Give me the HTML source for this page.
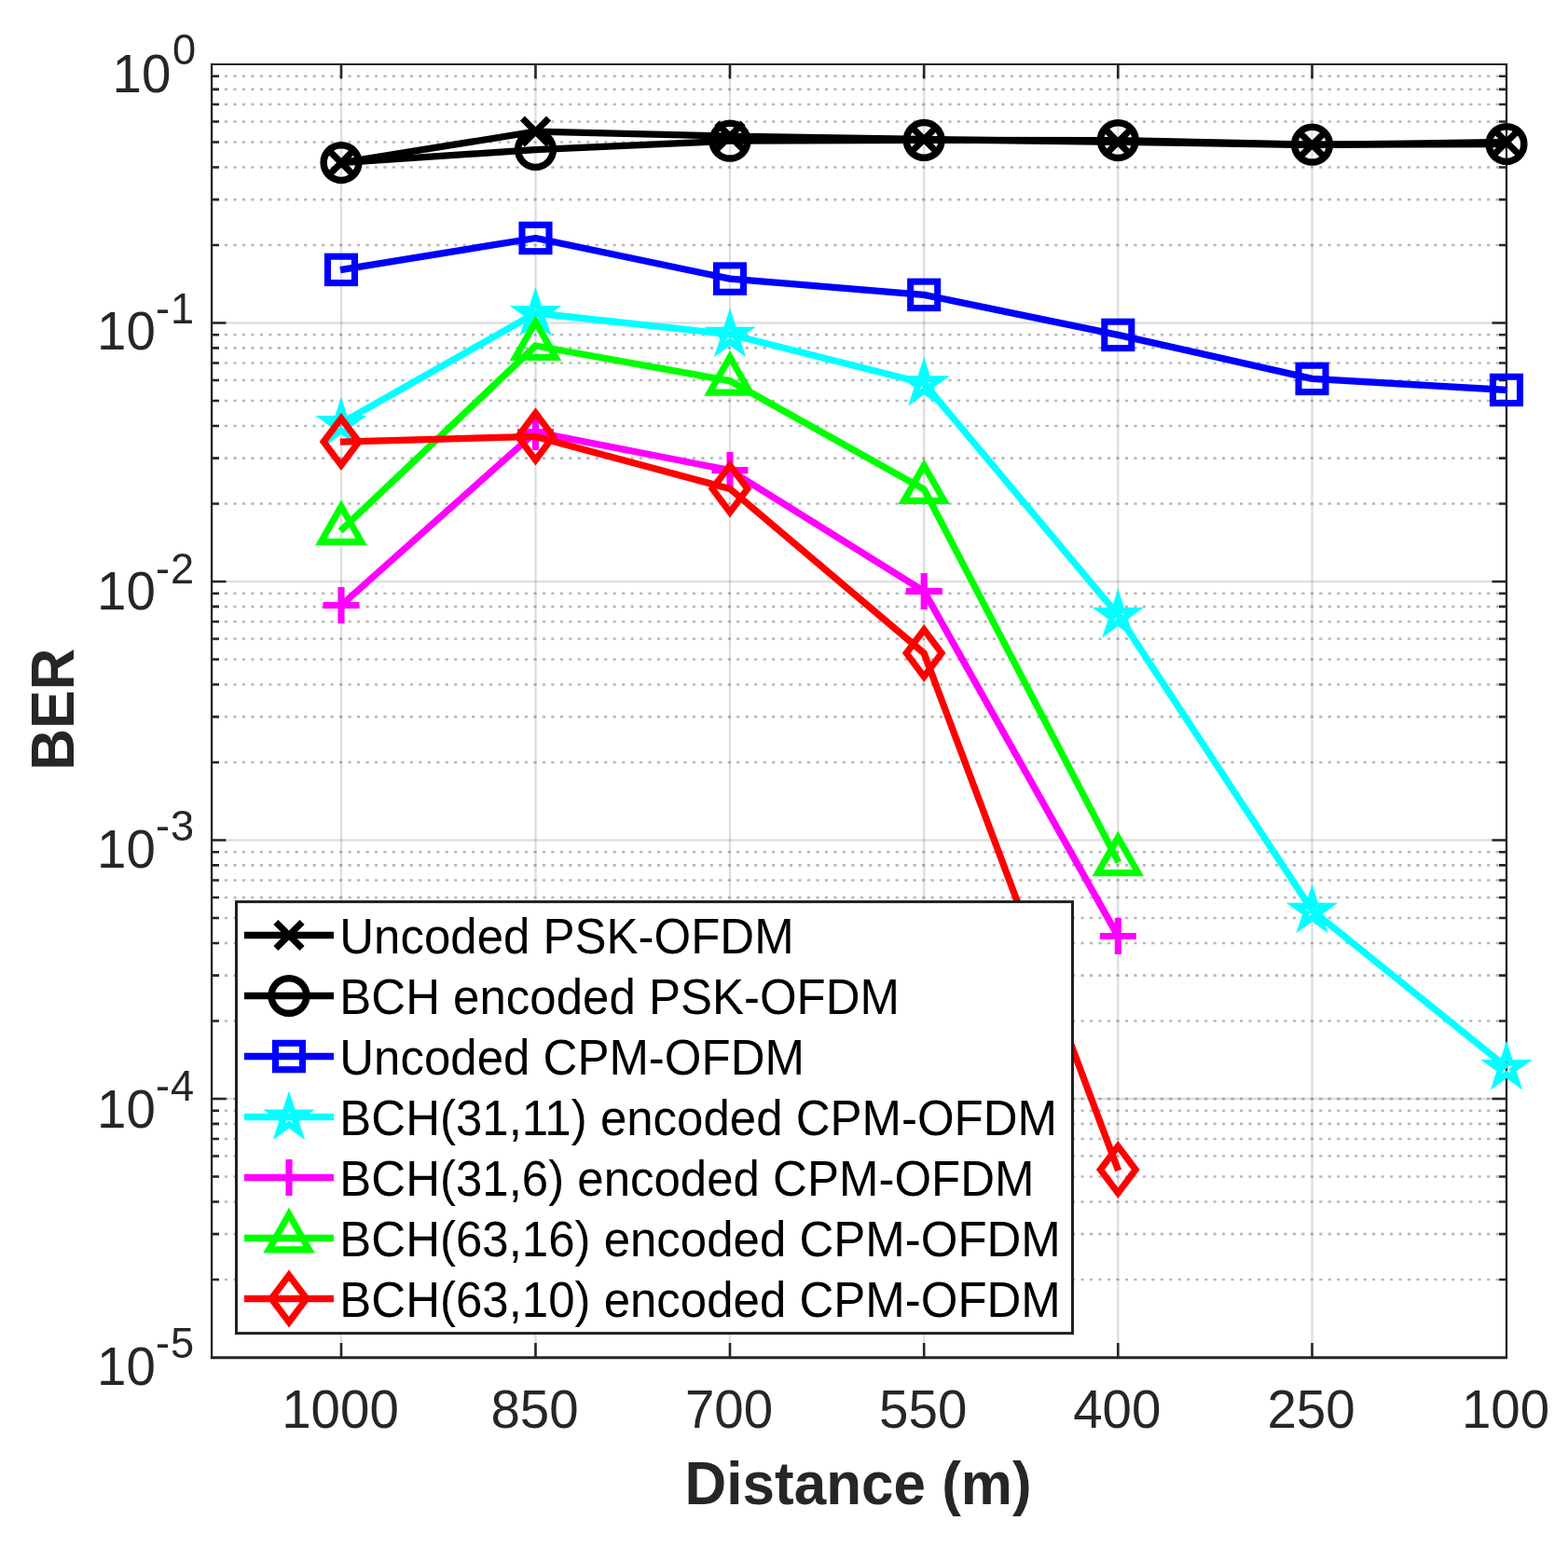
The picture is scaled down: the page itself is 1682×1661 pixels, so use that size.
<!DOCTYPE html>
<html lang="en">
<head>
<meta charset="utf-8">
<title>BER vs Distance</title>
<style>html,body{margin:0;padding:0;background:#ffffff;}body{width:1682px;height:1661px;overflow:hidden;}svg{display:block;}</style>
</head>
<body>
<svg width="1682" height="1661" viewBox="0 0 1682 1661" style="display:block">
<rect x="0" y="0" width="1682" height="1661" fill="#ffffff"/>
<g fill="none" stroke-linecap="butt">
<g stroke="#262626" stroke-opacity="0.15" stroke-width="2.4">
<path d="M227 346.5H1616"/>
<path d="M227 624H1616"/>
<path d="M227 901.5H1616"/>
<path d="M227 1179H1616"/>
<path d="M366 69V1456.5"/>
<path d="M574.5 69V1456.5"/>
<path d="M783 69V1456.5"/>
<path d="M991.2 69V1456.5"/>
<path d="M1199.3 69V1456.5"/>
<path d="M1407.5 69V1456.5"/>
</g>
<g stroke="#000000" stroke-opacity="0.28" stroke-width="2.6" stroke-dasharray="3.2 6.27" stroke-dashoffset="-4.45">
<path d="M227 262.96H1608"/>
<path d="M227 214.1H1608"/>
<path d="M227 179.43H1608"/>
<path d="M227 152.54H1608"/>
<path d="M227 130.56H1608"/>
<path d="M227 111.99H1608"/>
<path d="M227 95.89H1608"/>
<path d="M227 81.7H1608"/>
<path d="M227 540.46H1608"/>
<path d="M227 491.6H1608"/>
<path d="M227 456.93H1608"/>
<path d="M227 430.04H1608"/>
<path d="M227 408.06H1608"/>
<path d="M227 389.49H1608"/>
<path d="M227 373.39H1608"/>
<path d="M227 359.2H1608"/>
<path d="M227 817.96H1608"/>
<path d="M227 769.1H1608"/>
<path d="M227 734.43H1608"/>
<path d="M227 707.54H1608"/>
<path d="M227 685.56H1608"/>
<path d="M227 666.99H1608"/>
<path d="M227 650.89H1608"/>
<path d="M227 636.7H1608"/>
<path d="M227 1095.46H1608"/>
<path d="M227 1046.6H1608"/>
<path d="M227 1011.93H1608"/>
<path d="M227 985.04H1608"/>
<path d="M227 963.06H1608"/>
<path d="M227 944.49H1608"/>
<path d="M227 928.39H1608"/>
<path d="M227 914.2H1608"/>
<path d="M227 1372.96H1608"/>
<path d="M227 1324.1H1608"/>
<path d="M227 1289.43H1608"/>
<path d="M227 1262.54H1608"/>
<path d="M227 1240.56H1608"/>
<path d="M227 1221.99H1608"/>
<path d="M227 1205.89H1608"/>
<path d="M227 1191.7H1608"/>
<path d="M227 1179H1608"/>
</g>
</g>
<g stroke="#262626" stroke-width="2.4" fill="none" stroke-linecap="butt">
<path d="M225.9 69H1617.1" stroke-width="2.2"/>
<path d="M225.9 1456.7H1617.1" stroke-width="2.9"/>
<path d="M227.1 68V1458" stroke-width="2.3"/>
<path d="M1616 68V1458" stroke-width="2.3"/>
<path d="M366 1456.5V1441M366 69V84.5M574.5 1456.5V1441M574.5 69V84.5M783 1456.5V1441M783 69V84.5M991.2 1456.5V1441M991.2 69V84.5M1199.3 1456.5V1441M1199.3 69V84.5M1407.5 1456.5V1441M1407.5 69V84.5M227 346.5H242.5M1616 346.5H1600.5M227 624H242.5M1616 624H1600.5M227 901.5H242.5M1616 901.5H1600.5M227 1179H242.5M1616 1179H1600.5M227 262.96H235M1616 262.96H1608M227 214.1H235M1616 214.1H1608M227 179.43H235M1616 179.43H1608M227 152.54H235M1616 152.54H1608M227 130.56H235M1616 130.56H1608M227 111.99H235M1616 111.99H1608M227 95.89H235M1616 95.89H1608M227 81.7H235M1616 81.7H1608M227 540.46H235M1616 540.46H1608M227 491.6H235M1616 491.6H1608M227 456.93H235M1616 456.93H1608M227 430.04H235M1616 430.04H1608M227 408.06H235M1616 408.06H1608M227 389.49H235M1616 389.49H1608M227 373.39H235M1616 373.39H1608M227 359.2H235M1616 359.2H1608M227 817.96H235M1616 817.96H1608M227 769.1H235M1616 769.1H1608M227 734.43H235M1616 734.43H1608M227 707.54H235M1616 707.54H1608M227 685.56H235M1616 685.56H1608M227 666.99H235M1616 666.99H1608M227 650.89H235M1616 650.89H1608M227 636.7H235M1616 636.7H1608M227 1095.46H235M1616 1095.46H1608M227 1046.6H235M1616 1046.6H1608M227 1011.93H235M1616 1011.93H1608M227 985.04H235M1616 985.04H1608M227 963.06H235M1616 963.06H1608M227 944.49H235M1616 944.49H1608M227 928.39H235M1616 928.39H1608M227 914.2H235M1616 914.2H1608M227 1372.96H235M1616 1372.96H1608M227 1324.1H235M1616 1324.1H1608M227 1289.43H235M1616 1289.43H1608M227 1262.54H235M1616 1262.54H1608M227 1240.56H235M1616 1240.56H1608M227 1221.99H235M1616 1221.99H1608M227 1205.89H235M1616 1205.89H1608M227 1191.7H235M1616 1191.7H1608" stroke-width="2.6"/>
</g>
<g stroke-linecap="butt">
<path d="M351.9 160.5L380.1 188.7M351.9 188.7L380.1 160.5" stroke="#000000" stroke-width="7.1" fill="none"/>
<path d="M560.4 127.1L588.6 155.3M560.4 155.3L588.6 127.1" stroke="#000000" stroke-width="7.1" fill="none"/>
<path d="M768.9 132L797.1 160.2M768.9 160.2L797.1 132" stroke="#000000" stroke-width="7.1" fill="none"/>
<path d="M977.1 135.4L1005.3 163.6M977.1 163.6L1005.3 135.4" stroke="#000000" stroke-width="7.1" fill="none"/>
<path d="M1185.2 138.2L1213.4 166.4M1185.2 166.4L1213.4 138.2" stroke="#000000" stroke-width="7.1" fill="none"/>
<path d="M1393.4 141.4L1421.6 169.6M1393.4 169.6L1421.6 141.4" stroke="#000000" stroke-width="7.1" fill="none"/>
<path d="M1601.9 138.4L1630.1 166.6M1601.9 166.6L1630.1 138.4" stroke="#000000" stroke-width="7.1" fill="none"/>
<polyline points="365.01,174.76 574.5,141.2 783,146.1 991.2,149.5 1199.3,152.3 1407.5,155.5 1617,152.49" stroke="#000000" stroke-width="7.3" fill="none" stroke-linejoin="round"/>
</g>
<g stroke-linecap="butt">
<circle cx="366" cy="174.6" r="18.85" stroke="#000000" stroke-width="7.5" fill="none"/>
<circle cx="574.5" cy="160.6" r="18.85" stroke="#000000" stroke-width="7.5" fill="none"/>
<circle cx="783" cy="151.2" r="18.85" stroke="#000000" stroke-width="7.5" fill="none"/>
<circle cx="991.2" cy="150.4" r="18.85" stroke="#000000" stroke-width="7.5" fill="none"/>
<circle cx="1199.3" cy="150.6" r="18.85" stroke="#000000" stroke-width="7.5" fill="none"/>
<circle cx="1407.5" cy="155.2" r="18.85" stroke="#000000" stroke-width="7.5" fill="none"/>
<circle cx="1616" cy="154.6" r="18.85" stroke="#000000" stroke-width="7.5" fill="none"/>
<polyline points="365,174.67 574.5,160.6 783,151.2 991.2,150.4 1199.3,150.6 1407.5,155.2 1617,154.6" stroke="#000000" stroke-width="7.3" fill="none" stroke-linejoin="round"/>
</g>
<g stroke-linecap="butt">
<rect x="351.5" y="275.2" width="29" height="28.4" stroke="#0000ff" stroke-width="7.1" fill="none"/>
<rect x="560" y="241.3" width="29" height="28.4" stroke="#0000ff" stroke-width="7.1" fill="none"/>
<rect x="768.5" y="284.9" width="29" height="28.4" stroke="#0000ff" stroke-width="7.1" fill="none"/>
<rect x="976.7" y="302.15" width="29" height="28.4" stroke="#0000ff" stroke-width="7.1" fill="none"/>
<rect x="1184.8" y="345.2" width="29" height="28.4" stroke="#0000ff" stroke-width="7.1" fill="none"/>
<rect x="1393" y="392.2" width="29" height="28.4" stroke="#0000ff" stroke-width="7.1" fill="none"/>
<rect x="1601.5" y="404.25" width="29" height="28.4" stroke="#0000ff" stroke-width="7.1" fill="none"/>
<polyline points="365.01,289.56 574.5,255.5 783,299.1 991.2,316.35 1199.3,359.4 1407.5,406.4 1617,418.51" stroke="#0000ff" stroke-width="7.3" fill="none" stroke-linejoin="round"/>
</g>
<g stroke-linecap="butt">
<polygon points="366,436.7 370.09,449.28 383.31,449.28 372.61,457.05 376.7,469.62 366,461.85 355.3,469.62 359.39,457.05 348.69,449.28 361.91,449.28" stroke="#00ffff" stroke-width="6.8" fill="none" stroke-linejoin="miter" stroke-miterlimit="6"/>
<polygon points="574.5,318.8 578.59,331.38 591.81,331.38 581.11,339.15 585.2,351.72 574.5,343.95 563.8,351.72 567.89,339.15 557.19,331.38 570.41,331.38" stroke="#00ffff" stroke-width="6.8" fill="none" stroke-linejoin="miter" stroke-miterlimit="6"/>
<polygon points="783,341.5 787.09,354.08 800.31,354.08 789.61,361.85 793.7,374.42 783,366.65 772.3,374.42 776.39,361.85 765.69,354.08 778.91,354.08" stroke="#00ffff" stroke-width="6.8" fill="none" stroke-linejoin="miter" stroke-miterlimit="6"/>
<polygon points="991.2,394 995.29,406.58 1008.51,406.58 997.81,414.35 1001.9,426.92 991.2,419.15 980.5,426.92 984.59,414.35 973.89,406.58 987.11,406.58" stroke="#00ffff" stroke-width="6.8" fill="none" stroke-linejoin="miter" stroke-miterlimit="6"/>
<polygon points="1199.3,642.6 1203.39,655.18 1216.61,655.18 1205.91,662.95 1210,675.52 1199.3,667.75 1188.6,675.52 1192.69,662.95 1181.99,655.18 1195.21,655.18" stroke="#00ffff" stroke-width="6.8" fill="none" stroke-linejoin="miter" stroke-miterlimit="6"/>
<polygon points="1407.5,959.6 1411.59,972.18 1424.81,972.18 1414.11,979.95 1418.2,992.52 1407.5,984.75 1396.8,992.52 1400.89,979.95 1390.19,972.18 1403.41,972.18" stroke="#00ffff" stroke-width="6.8" fill="none" stroke-linejoin="miter" stroke-miterlimit="6"/>
<polygon points="1616,1127.7 1620.09,1140.28 1633.31,1140.28 1622.61,1148.05 1626.7,1160.62 1616,1152.85 1605.3,1160.62 1609.39,1148.05 1598.69,1140.28 1611.91,1140.28" stroke="#00ffff" stroke-width="6.8" fill="none" stroke-linejoin="miter" stroke-miterlimit="6"/>
<polyline points="365.13,454.39 574.5,336 783,358.7 991.2,411.2 1199.3,659.8 1407.5,976.8 1616.78,1145.53" stroke="#00ffff" stroke-width="7.3" fill="none" stroke-linejoin="round"/>
</g>
<g stroke-linecap="butt">
<path d="M346.5 649.45L385.5 649.45M366 629.95L366 668.95" stroke="#ff00ff" stroke-width="7.1" fill="none"/>
<path d="M555 463.6L594 463.6M574.5 444.1L574.5 483.1" stroke="#ff00ff" stroke-width="7.1" fill="none"/>
<path d="M763.5 504.6L802.5 504.6M783 485.1L783 524.1" stroke="#ff00ff" stroke-width="7.1" fill="none"/>
<path d="M971.7 634.4L1010.7 634.4M991.2 614.9L991.2 653.9" stroke="#ff00ff" stroke-width="7.1" fill="none"/>
<path d="M1179.8 1004.5L1218.8 1004.5M1199.3 985L1199.3 1024" stroke="#ff00ff" stroke-width="7.1" fill="none"/>
<polyline points="365.25,650.12 574.5,463.6 783,504.6 991.2,634.4 1199.79,1005.37" stroke="#ff00ff" stroke-width="7.3" fill="none" stroke-linejoin="round"/>
</g>
<g stroke-linecap="butt">
<polygon points="366,543.5 387.65,581.4 344.35,581.4" stroke="#00ff00" stroke-width="7.1" fill="none" stroke-linejoin="miter"/>
<polygon points="574.5,345.5 596.15,383.4 552.85,383.4" stroke="#00ff00" stroke-width="7.1" fill="none" stroke-linejoin="miter"/>
<polygon points="783,383.2 804.65,421.1 761.35,421.1" stroke="#00ff00" stroke-width="7.1" fill="none" stroke-linejoin="miter"/>
<polygon points="991.2,499.5 1012.85,537.4 969.55,537.4" stroke="#00ff00" stroke-width="7.1" fill="none" stroke-linejoin="miter"/>
<polygon points="1199.3,898.7 1220.95,936.6 1177.65,936.6" stroke="#00ff00" stroke-width="7.1" fill="none" stroke-linejoin="miter"/>
<polyline points="365.27,569.69 574.5,371 783,408.7 991.2,525 1199.76,925.09" stroke="#00ff00" stroke-width="7.3" fill="none" stroke-linejoin="round"/>
</g>
<g stroke-linecap="butt">
<polygon points="366,448.8 384.9,474 366,499.2 347.1,474" stroke="#ff0000" stroke-width="7.1" fill="none" stroke-linejoin="miter"/>
<polygon points="574.5,443.2 593.4,468.4 574.5,493.6 555.6,468.4" stroke="#ff0000" stroke-width="7.1" fill="none" stroke-linejoin="miter"/>
<polygon points="783,499.3 801.9,524.5 783,549.7 764.1,524.5" stroke="#ff0000" stroke-width="7.1" fill="none" stroke-linejoin="miter"/>
<polygon points="991.2,675.65 1010.1,700.85 991.2,726.05 972.3,700.85" stroke="#ff0000" stroke-width="7.1" fill="none" stroke-linejoin="miter"/>
<polygon points="1199.3,1229.8 1218.2,1255 1199.3,1280.2 1180.4,1255" stroke="#ff0000" stroke-width="7.1" fill="none" stroke-linejoin="miter"/>
<polyline points="365,474.03 574.5,468.4 783,524.5 991.2,700.85 1199.65,1255.94" stroke="#ff0000" stroke-width="7.3" fill="none" stroke-linejoin="round"/>
</g>
<rect x="253.5" y="967.6" width="897" height="463" fill="#ffffff" stroke="#202020" stroke-width="3"/>
<g stroke-linecap="butt">
<path d="M295.9 989.4L324.1 1017.6M295.9 1017.6L324.1 989.4" stroke="#000000" stroke-width="7.1" fill="none"/>
<path d="M262 1003.5H358" stroke="#000000" stroke-width="7.3" fill="none"/>
</g>
<g stroke-linecap="butt">
<circle cx="310" cy="1068.5" r="18.85" stroke="#000000" stroke-width="7.5" fill="none"/>
<path d="M262 1068.5H358" stroke="#000000" stroke-width="7.3" fill="none"/>
</g>
<g stroke-linecap="butt">
<rect x="295.5" y="1119.3" width="29" height="28.4" stroke="#0000ff" stroke-width="7.1" fill="none"/>
<path d="M262 1133.5H358" stroke="#0000ff" stroke-width="7.3" fill="none"/>
</g>
<g stroke-linecap="butt">
<polygon points="310,1181.3 314.09,1193.88 327.31,1193.88 316.61,1201.65 320.7,1214.22 310,1206.45 299.3,1214.22 303.39,1201.65 292.69,1193.88 305.91,1193.88" stroke="#00ffff" stroke-width="6.8" fill="none" stroke-linejoin="miter" stroke-miterlimit="6"/>
<path d="M262 1198.5H358" stroke="#00ffff" stroke-width="7.3" fill="none"/>
</g>
<g stroke-linecap="butt">
<path d="M290.5 1263.5L329.5 1263.5M310 1244L310 1283" stroke="#ff00ff" stroke-width="7.1" fill="none"/>
<path d="M262 1263.5H358" stroke="#ff00ff" stroke-width="7.3" fill="none"/>
</g>
<g stroke-linecap="butt">
<polygon points="310,1303 331.65,1340.9 288.35,1340.9" stroke="#00ff00" stroke-width="7.1" fill="none" stroke-linejoin="miter"/>
<path d="M262 1328.5H358" stroke="#00ff00" stroke-width="7.3" fill="none"/>
</g>
<g stroke-linecap="butt">
<polygon points="310,1368.3 328.9,1393.5 310,1418.7 291.1,1393.5" stroke="#ff0000" stroke-width="7.1" fill="none" stroke-linejoin="miter"/>
<path d="M262 1393.5H358" stroke="#ff0000" stroke-width="7.3" fill="none"/>
</g>
<g font-family="'Liberation Sans', Arial, Helvetica, sans-serif" font-size="51" fill="#000000">
<text transform="translate(364.3 1023) scale(1 1.04)">Uncoded PSK-OFDM</text>
<text transform="translate(364.3 1088) scale(1 1.04)">BCH encoded PSK-OFDM</text>
<text transform="translate(364.3 1153) scale(1 1.04)">Uncoded CPM-OFDM</text>
<text transform="translate(364.3 1218) scale(1 1.04)">BCH(31,11) encoded CPM-OFDM</text>
<text transform="translate(364.3 1283) scale(1 1.04)">BCH(31,6) encoded CPM-OFDM</text>
<text transform="translate(364.3 1348) scale(1 1.04)">BCH(63,16) encoded CPM-OFDM</text>
<text transform="translate(364.3 1413) scale(1 1.04)">BCH(63,10) encoded CPM-OFDM</text>
</g>
<g font-family="'Liberation Sans', Arial, Helvetica, sans-serif" fill="#262626">
<g font-size="56.5" text-anchor="middle">
<text transform="translate(365 1532.2) scale(1 1.02)">1000</text>
<text transform="translate(573.5 1532.2) scale(1 1.02)">850</text>
<text transform="translate(782 1532.2) scale(1 1.02)">700</text>
<text transform="translate(990.2 1532.2) scale(1 1.02)">550</text>
<text transform="translate(1198.3 1532.2) scale(1 1.02)">400</text>
<text transform="translate(1406.5 1532.2) scale(1 1.02)">250</text>
<text transform="translate(1615 1532.2) scale(1 1.02)">100</text>
</g>
<text transform="translate(183.45 99) scale(1 1.02)" font-size="56.5" text-anchor="end">10</text>
<text transform="translate(185 69.45) scale(1 1.02)" font-size="45.2">0</text>
<text transform="translate(166.85 375.1) scale(1 1.02)" font-size="56.5" text-anchor="end">10</text>
<text transform="translate(167 347) scale(1 1.02)" font-size="45.2">-<tspan dx="0.85">1</tspan></text>
<text transform="translate(166.85 653.7) scale(1 1.02)" font-size="56.5" text-anchor="end">10</text>
<text transform="translate(167 625.8) scale(1 1.02)" font-size="45.2">-<tspan dx="0.85">2</tspan></text>
<text transform="translate(166.85 930.7) scale(1 1.02)" font-size="56.5" text-anchor="end">10</text>
<text transform="translate(167 901.6) scale(1 1.02)" font-size="45.2">-<tspan dx="0.85">3</tspan></text>
<text transform="translate(166.85 1209.9) scale(1 1.02)" font-size="56.5" text-anchor="end">10</text>
<text transform="translate(167 1180.8) scale(1 1.02)" font-size="45.2">-<tspan dx="0.85">4</tspan></text>
<text transform="translate(166.85 1485.7) scale(1 1.02)" font-size="56.5" text-anchor="end">10</text>
<text transform="translate(167 1457.3) scale(1 1.02)" font-size="45.2">-<tspan dx="0.85">5</tspan></text>
<text transform="translate(920.6 1613.7) scale(1 1.035)" font-size="62" font-weight="bold" text-anchor="middle">Distance (m)</text>
<text transform="translate(78.9 761.3) rotate(-90) scale(1 1.04)" font-size="62" font-weight="bold" text-anchor="middle">BER</text>
</g>
</svg>
</body>
</html>
